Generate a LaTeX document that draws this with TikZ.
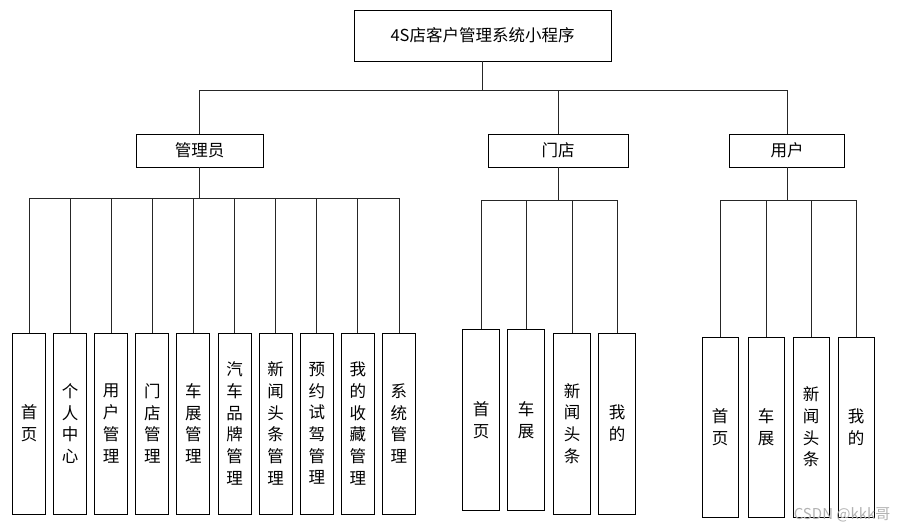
\documentclass[tikz,border=0pt]{standalone}
\usepackage{fontspec}
\setmainfont{Noto Sans CJK SC}
\usetikzlibrary{positioning}

\tikzset{
  box/.style={draw, line width=0.9pt, inner sep=0pt, font=\fontsize{16.5}{21.7}\selectfont},
  leaf/.style={box, minimum height=181pt, align=center},
  link/.style={line width=0.8pt, black!85},
}

\begin{document}
\begin{tikzpicture}[x=1pt,y=-1pt]
  \useasboundingbox (0,0) rectangle (899,531);
  % top levels
  \node[box, minimum width=257pt, minimum height=51pt] (root) at (482.5,35.5) {4S店客户管理系统小程序};
  \node[box, minimum width=127pt, minimum height=33pt] (adm)  at (199.5,150.5) {管理员};
  \node[box, minimum width=140pt, minimum height=33pt] (shop) at (558,150.5) {门店};
  \node[box, minimum width=115pt, minimum height=33pt] (user) at (787,150.5) {用户};
  \foreach \p in {adm,shop,user}
    \draw[link] (root.south) -- ++(0,28.5) -| (\p.north);

  % admin leaves
  \foreach \t [count=\i] in {{首\\页},{个\\人\\中\\心},{用\\户\\管\\理},{门\\店\\管\\理},{车\\展\\管\\理},
      {汽\\车\\品\\牌\\管\\理},{新\\闻\\头\\条\\管\\理},{预\\约\\试\\驾\\管\\理},{我\\的\\收\\藏\\管\\理},{系\\统\\管\\理}}{
    \node[leaf, minimum width=33pt] (a\i) at ({29+41.11*(\i-1)},423.5) {\t};
    \draw[link] (adm.south) -- ++(0,31) -| (a\i.north);
  }

  % shop leaves
  \foreach \x/\y/\t [count=\i] in {481/420/{首\\页},526/420/{车\\展},572/423.5/{新\\闻\\头\\条},617/423.5/{我\\的}}{
    \node[leaf, minimum width=37pt] (s\i) at (\x,\y) {\t};
    \draw[link] (shop.south) -- ++(0,33) -| (s\i.north);
  }

  % user leaves
  \foreach \x/\t [count=\i] in {720/{首\\页},766/{车\\展},811/{新\\闻\\头\\条},856/{我\\的}}{
    \node[leaf, minimum width=36pt, minimum height=180pt] (u\i) at (\x,427) {\t};
    \draw[link] (user.south) -- ++(0,33) -| (u\i.north);
  }

  \node[text=black!30, font=\fontsize{15}{15}\selectfont, anchor=east] (mark) at (894,515) {CSDN @kkk哥};
\end{tikzpicture}
\end{document}
